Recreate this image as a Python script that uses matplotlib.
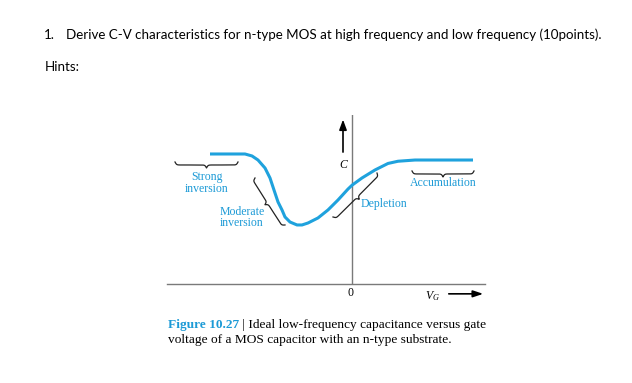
import matplotlib
matplotlib.use("Agg")
import matplotlib.pyplot as plt
import numpy as np

plt.rcParams["mathtext.fontset"] = "custom"
plt.rcParams["mathtext.it"] = "Liberation Serif:italic"
plt.rcParams["mathtext.rm"] = "Liberation Serif"

# low-frequency C-V curve (V_G arbitrary units, C normalised)
vg = [-7.10, -5.35, -5.0, -4.7, -4.35, -4.1, -3.9, -3.7, -3.5, -3.35, -3.1,
      -2.75, -2.5, -2.2, -1.7, -1.2, -0.7, -0.2, 0.0, 0.5, 1.15, 1.8, 2.3,
      3.15, 6.05]
cap = [1.057, 1.057, 1.041, 1.008, 0.943, 0.862, 0.764, 0.667, 0.602, 0.545, 0.504,
       0.480, 0.480, 0.496, 0.537, 0.602, 0.683, 0.772, 0.803, 0.862, 0.927, 0.980, 0.998,
       1.008, 1.008]

# region braces: (start, end) in data units
brace_ends = {
    "strong": ((-8.85, 0.992), (-5.7, 0.992)),
    "moderate": ((-4.85, 0.862), (-3.35, 0.480)),
    "depletion": ((-0.95, 0.545), (1.25, 0.902)),
    "accum": ((3.0, 0.919), (6.1, 0.919)),
}

question = "Derive C-V characteristics for n-type MOS at high frequency and low frequency (10points)."
caption1 = " | Ideal low-frequency capacitance versus gate"
caption2 = "voltage of a MOS capacitor with an n-type substrate."

blue = "#1fa2dd"
label_blue = "#1c9ad6"
W, H = 632, 383

fig = plt.figure(figsize=(W / 100, H / 100), dpi=100)
ax = fig.add_axes([167 / W, (H - 284) / H, (485 - 167) / W, (284 - 115) / H])
ax.set_xlim(-9.25, 6.65)
ax.set_ylim(0, 1.374)
for s in ["top", "right", "left"]:
    ax.spines[s].set_visible(False)
ax.spines["bottom"].set_color("#7a7a7a")
ax.spines["bottom"].set_linewidth(1.0)
ax.set_xticks([])
ax.set_yticks([])
ax.axvline(0, color="#7a7a7a", lw=1.0)

ax.plot(vg, cap, color=blue, lw=2.2, solid_capstyle="butt", solid_joinstyle="round")


def brace(p0, p1, depth=-6.0, k=1.3):
    # curly brace drawn in display pixels, tip goes to the side of sign(depth)
    a = ax.transData.transform(p0)
    b = ax.transData.transform(p1)
    d = b - a
    L = np.hypot(*d)
    u = d / L
    n = np.array([-u[1], u[0]])
    t = np.linspace(0, L / 2, 200)
    sig = lambda z: 1 / (1 + np.exp(-z))
    yh = sig(k * t) + sig(k * (t - L / 2)) - 0.5
    s = np.concatenate([t, L - t[::-1]])
    y = np.concatenate([yh, yh[::-1]]) * depth
    pts = a + np.outer(s, u) + np.outer(y, n)
    pts = ax.transData.inverted().transform(pts)
    ax.plot(pts[:, 0], pts[:, 1], color="#222222", lw=0.9, clip_on=False)


for key, (p0, p1) in brace_ends.items():
    brace(p0, p1)

serif = "Liberation Serif"
tkw = dict(family=serif, fontsize=8.5, color=label_blue, ha="center", va="center",
           linespacing=0.95)
ax.text(-7.25, 0.82, "Strong\ninversion", **tkw)
ax.text(-5.5, 0.54, "Moderate\ninversion", **tkw)
ax.text(0.45, 0.654, "Depletion", family=serif, fontsize=8.5, color=label_blue,
        ha="left", va="center")
ax.text(4.55, 0.822, "Accumulation", **tkw)

# axis annotations
ax.annotate("", xy=(-0.45, 1.36), xytext=(-0.45, 1.05),
            arrowprops=dict(arrowstyle="-|>,head_length=0.6,head_width=0.22",
                            color="black", lw=1.2))
ax.text(-0.45, 0.965, "C", family=serif, style="italic", fontsize=8.5,
        ha="center", va="center")
ax.text(-0.05, -0.075, "0", family=serif, fontsize=8.5, ha="center", va="center",
        clip_on=False)
ax.text(4.0, -0.095, "$V_G$", fontsize=8.5, ha="center", va="center")
ax.annotate("", xy=(6.7, -0.08), xytext=(4.7, -0.08),
            arrowprops=dict(arrowstyle="-|>,head_length=0.6,head_width=0.2",
                            color="black", lw=1.2), annotation_clip=False)

# caption
t1 = fig.text(168 / W, 1 - 325 / H, "Figure 10.27", family=serif, weight="bold",
              fontsize=9.6, color=label_blue, va="center")
fig.canvas.draw()
bb = t1.get_window_extent()
fig.text(bb.x1 / W, 1 - 325 / H, caption1, family=serif, fontsize=9.6, va="center")
fig.text(168 / W, 1 - 340 / H, caption2, family=serif, fontsize=9.6, va="center")

# question text
fig.text(44 / W, 1 - 35 / H, "1.", family="Lato", fontsize=9.6, va="center")
fig.text(66 / W, 1 - 35 / H, question, family="Lato", fontsize=9.6, va="center")
fig.text(45 / W, 1 - 67 / H, "Hints:", family="Lato", fontsize=9.6, va="center")

fig.savefig("out.png", dpi=100)
